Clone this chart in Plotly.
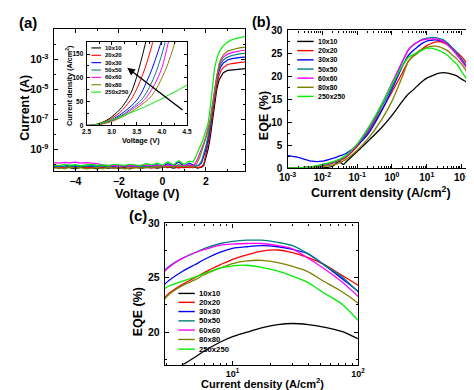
import plotly.graph_objects as go

W, H = 474, 390
FONT = "Liberation Sans"


def px(x):
    return x / W


def py(y):
    return 1 - y / H


SERIES = ["10x10", "20x20", "30x30", "50x50", "60x60", "80x80", "250x250"]
COLORS = ["#000000", "#ff0000", "#0000ff", "#008080", "#ff00ff", "#808000", "#00ee00"]

# ---------------- (a) I-V, log current ----------------
V_IV = [-5.0, -4.75, -4.5, -4.25, -4.0, -3.75, -3.5, -3.25, -3.0, -2.75, -2.5, -2.25, -2.0,
        -1.75, -1.5, -1.25, -1.0, -0.75, -0.5, -0.25, 0.0, 0.25, 0.5, 0.75, 1.0, 1.25,
        1.4, 1.5, 1.6, 1.7, 1.8, 1.9, 2.0, 2.1, 2.2, 2.3, 2.4, 2.5, 2.6, 2.7, 2.8, 3.0, 3.2, 3.4, 3.6, 3.8]

I_10 = [6.5e-11, 5.5e-11, 7e-11, 6e-11, 5e-11, 6.5e-11, 5.5e-11, 6e-11, 5e-11, 6.5e-11, 5.5e-11, 6e-11, 5.5e-11,
        6e-11, 5e-11, 6.5e-11, 5.5e-11, 6e-11, 6.5e-11, 5.5e-11, 6e-11, 7e-11, 5.5e-11, 6.5e-11, 6e-11, 7e-11,
        6e-11, 6.5e-11, 5.5e-11, 6e-11, 6.5e-11, 8e-11, 2.5e-10, 1e-9, 6.3e-9, 8e-8, 1e-6, 1e-5, 4e-5, 7.9e-5,
        1.26e-4, 1.8e-4, 2e-4, 2.1e-4, 2.2e-4, 2.35e-4]
I_20 = [7e-11, 6e-11, 6.5e-11, 7.5e-11, 6e-11, 7e-11, 6.5e-11, 5.5e-11, 7e-11, 6e-11, 7e-11, 6.5e-11, 6e-11,
        7e-11, 6.5e-11, 6e-11, 7e-11, 6.5e-11, 5.5e-11, 7e-11, 6.5e-11, 6e-11, 7.5e-11, 5.5e-11, 7e-11, 6e-11,
        6.5e-11, 7e-11, 6e-11, 6.5e-11, 7e-11, 1e-10, 4e-10, 2.5e-9, 1.6e-8, 2e-7, 2.5e-6, 2e-5, 7.9e-5, 1.8e-4,
        2.8e-4, 4.5e-4, 5.2e-4, 5.9e-4, 6.3e-4, 6.6e-4]
I_30 = [8e-11, 7e-11, 7.5e-11, 8.5e-11, 7e-11, 8e-11, 7.5e-11, 7e-11, 8e-11, 7.5e-11, 8.5e-11, 7e-11, 8e-11,
        7.5e-11, 8e-11, 7e-11, 8.5e-11, 7.5e-11, 8e-11, 9e-11, 7.5e-11, 1.1e-10, 8e-11, 1.4e-10, 7.5e-11, 1.2e-10,
        9e-11, 7.5e-11, 8e-11, 9e-11, 1.25e-10, 3.2e-10, 1e-9, 5e-9, 3.2e-8, 4e-7, 5e-6, 4e-5, 1.6e-4, 3.5e-4,
        5.6e-4, 8.9e-4, 1.1e-3, 1.26e-3, 1.35e-3, 1.4e-3]
I_50 = [7.5e-11, 8e-11, 7e-11, 7.5e-11, 8e-11, 7e-11, 7.5e-11, 8e-11, 7e-11, 7.5e-11, 7e-11, 8e-11, 7.5e-11,
        7e-11, 7.5e-11, 8e-11, 7e-11, 7.5e-11, 7e-11, 8e-11, 7.5e-11, 8.5e-11, 7e-11, 9e-11, 8e-11, 8.5e-11,
        7e-11, 7.5e-11, 8e-11, 1e-10, 1.6e-10, 5e-10, 1.6e-9, 7.9e-9, 5e-8, 6.3e-7, 7.9e-6, 6.3e-5, 2.5e-4, 5.6e-4,
        8.9e-4, 1.4e-3, 1.8e-3, 2.1e-3, 2.35e-3, 2.5e-3]
I_60 = [1.3e-10, 1.2e-10, 1.35e-10, 1.25e-10, 1.4e-10, 1.2e-10, 1.3e-10, 1.25e-10, 1.1e-10, 9e-11, 8e-11, 8.5e-11, 7.5e-11,
        8e-11, 8.5e-11, 7.5e-11, 8e-11, 9e-11, 8e-11, 7.5e-11, 8.5e-11, 8e-11, 9e-11, 7.5e-11, 8.5e-11, 9e-11,
        8e-11, 1.1e-10, 2e-10, 4.5e-10, 1e-9, 2.5e-9, 7e-9, 2.5e-8, 1e-7, 1e-6, 1e-5, 7.9e-5, 3.5e-4, 8.9e-4,
        1.4e-3, 2.2e-3, 2.8e-3, 3.3e-3, 3.7e-3, 4e-3]
I_80 = [5.5e-11, 6e-11, 5e-11, 6.5e-11, 5.5e-11, 6e-11, 5e-11, 5.5e-11, 6e-11, 5e-11, 6.5e-11, 5.5e-11, 6e-11,
        5e-11, 5.5e-11, 6e-11, 5.5e-11, 6.5e-11, 6e-11, 7e-11, 6e-11, 7.5e-11, 6.5e-11, 8e-11, 7e-11, 7.5e-11,
        6.5e-11, 7e-11, 1.25e-10, 2.5e-10, 7e-10, 1.8e-9, 5e-9, 1.6e-8, 8e-8, 8e-7, 1e-5, 1e-4, 4.5e-4, 1.1e-3,
        2e-3, 3.5e-3, 4.5e-3, 5.2e-3, 5.9e-3, 6.3e-3]
I_250 = [9e-11, 8e-11, 1e-10, 8.5e-11, 9.5e-11, 8e-11, 9e-11, 1e-10, 8.5e-11, 9e-11, 8e-11, 1e-10, 9e-11,
         8.5e-11, 1e-10, 9e-11, 8e-11, 1.1e-10, 9e-11, 1.2e-10, 8.5e-11, 1.5e-10, 9e-11, 1.7e-10, 1e-10, 1.6e-10,
         1.4e-10, 2.5e-10, 5e-10, 1e-9, 2.5e-9, 6.3e-9, 1.6e-8, 5e-8, 6.3e-7, 1.6e-5, 2.5e-4, 1.1e-3, 2.8e-3, 5e-3,
         7.9e-3, 1.4e-2, 2e-2, 2.5e-2, 2.95e-2, 3.3e-2]
IV_DATA = [I_10, I_20, I_30, I_50, I_60, I_80, I_250]

# ---------------- (a) inset: J-V linear ----------------
V_INSET = [2.5, 2.6, 2.7, 2.8, 2.9, 3.0, 3.1, 3.2, 3.3, 3.4, 3.5, 3.6, 3.7, 3.8, 3.9, 4.0, 4.1, 4.2, 4.3, 4.4, 4.5]
J_10 = [0, 0.5, 2.5, 6, 11, 18, 27, 38, 53, 72, 103, 142, 185]
J_20 = [0, 0.4, 2, 5, 9.5, 15, 22, 31, 43, 57, 77, 102, 132, 168, 210]
J_30 = [0, 0.3, 1.5, 4, 7.5, 12, 18, 25, 33, 42, 53, 70, 93, 118, 148, 180]
J_50 = [0, 0.3, 1.3, 3.5, 6.5, 10.5, 15.5, 21.5, 28.5, 36.5, 45, 55, 70, 91, 117, 150, 190]
J_60 = [0, 0.3, 1.2, 3.2, 6, 9.5, 14, 19.5, 26, 33.5, 41, 48.5, 60, 76, 96, 121, 162, 210]
J_80 = [0, 0.2, 1.0, 2.8, 5.3, 8.5, 12.5, 17.5, 23, 29.5, 36.5, 44, 52, 63, 79, 100, 124, 155, 188]
J_250 = [0, 0.3, 2, 5, 8.5, 12, 15.5, 19.5, 23.5, 27.5, 32, 36.5, 41, 46, 51, 56, 62, 67.5, 73, 79, 85]
JV_DATA = [J_10, J_20, J_30, J_50, J_60, J_80, J_250]

# ---------------- (b)/(c) EQE vs current density ----------------
J_EQE = [0.001, 0.002, 0.005, 0.01, 0.02, 0.03, 0.04, 0.05, 0.1, 0.2, 0.5, 1, 2, 3, 4, 5, 6, 8, 10,
         13, 17, 23, 30, 40, 52, 75, 100, 150, 210]
EQE_10 = [0.0, 0.0, 0.0, 0.05, 0.4, 1.5, 0.8, 1.5, 3.6, 5.8, 8.8, 11.5, 14.6, 16.2, 17.0, 17.7, 18.3, 19.1, 19.6,
          20.0, 20.4, 20.7, 20.8, 20.7, 20.5, 20.05, 19.4, 18.6, 17.6]
EQE_20 = [0.0, 0.05, 0.2, 0.55, 1.1, 1.55, 2.0, 2.5, 4.7, 7.6, 12.6, 16.6, 20.8, 23.4, 24.4, 25.0, 25.5, 26.2, 26.7,
          27.1, 27.45, 27.55, 27.3, 26.85, 26.3, 25.2, 24.3, 22.5, 20.6]
EQE_30 = [2.7, 2.35, 1.5, 1.5, 2.1, 2.6, 2.95, 3.3, 5.0, 7.3, 12.4, 17.2, 22.2, 24.6, 25.6, 26.2, 26.7, 27.35, 27.7,
          27.85, 27.95, 27.85, 27.6, 27.2, 26.3, 24.9, 23.75, 21.8, 19.8]
EQE_50 = [0.0, 0.05, 0.25, 0.6, 1.2, 1.7, 2.2, 2.7, 5.0, 8.0, 13.3, 17.8, 23.2, 25.9, 26.8, 27.3, 27.7, 28.15, 28.35,
          28.45, 28.45, 28.25, 27.95, 27.2, 26.3, 25.05, 23.7, 21.6, 19.7]
EQE_60 = [0.0, 0.08, 0.3, 0.75, 1.3, 1.8, 2.3, 2.8, 5.1, 8.3, 13.8, 18.6, 23.3, 25.8, 26.8, 27.3, 27.6, 28.0, 28.1,
          28.15, 28.15, 27.95, 27.65, 26.8, 25.95, 24.6, 23.3, 21.5, 19.7]
EQE_80 = [0.0, 0.0, 0.1, 0.3, 0.7, 1.1, 1.6, 2.0, 3.9, 6.3, 10.5, 14.6, 20.0, 23.3, 24.3, 24.8, 25.3, 25.9, 26.3,
          26.55, 26.6, 26.4, 26.05, 25.55, 24.75, 23.7, 22.65, 20.6, 18.4]
EQE_250 = [0.0, 0.05, 0.3, 0.8, 1.4, 1.9, 2.4, 2.9, 5.3, 8.6, 13.8, 18.3, 22.3, 24.15, 24.7, 25.05, 25.4, 25.9, 26.1,
           26.15, 25.95, 25.6, 25.15, 24.55, 23.7, 22.55, 21.1, 19.0, 17.0]
EQE_DATA = [EQE_10, EQE_20, EQE_30, EQE_50, EQE_60, EQE_80, EQE_250]

# tick labels
IV_TICKS = [1e-9, 1e-7, 1e-5, 1e-3]
IV_TICKTEXT = ["10<sup>-9</sup>", "10<sup>-7</sup>", "10<sup>-5</sup>", "10<sup>-3</sup>"]
B_TICKS = [1e-3, 1e-2, 1e-1, 1, 10, 100]
B_TICKTEXT = ["10<sup>-3</sup>", "10<sup>-2</sup>", "10<sup>-1</sup>", "10<sup>0</sup>", "10<sup>1</sup>", "10<sup>2</sup>"]
C_TICKS = [10, 100]
C_TICKTEXT = ["10<sup>1</sup>", "10<sup>2</sup>"]

fig = go.Figure()

for name, col, ys in zip(SERIES, COLORS, IV_DATA):
    fig.add_trace(go.Scatter(x=V_IV, y=ys, mode="lines", name=name, showlegend=False,
                             line=dict(color=col, width=1.2), xaxis="x", yaxis="y"))
for name, col, ys in zip(SERIES, COLORS, JV_DATA):
    fig.add_trace(go.Scatter(x=V_INSET[:len(ys)], y=ys, mode="lines", name=name, showlegend=False,
                             line=dict(color=col, width=1.0, shape="spline", smoothing=0.8),
                             xaxis="x2", yaxis="y2"))
for name, col, ys in zip(SERIES, COLORS, EQE_DATA):
    fig.add_trace(go.Scatter(x=J_EQE, y=ys, mode="lines", name=name, showlegend=False,
                             line=dict(color=col, width=1.3, shape="spline", smoothing=0.8),
                             xaxis="x3", yaxis="y3"))
for name, col, ys in zip(SERIES, COLORS, EQE_DATA):
    fig.add_trace(go.Scatter(x=J_EQE, y=ys, mode="lines", name=name, showlegend=False,
                             line=dict(color=col, width=1.3, shape="spline", smoothing=0.8),
                             xaxis="x4", yaxis="y4"))


def tfont(size):
    return dict(family=FONT, size=size, color="black", weight="bold")


def axis(domain, rng, size=10.5, **kw):
    d = dict(domain=domain, range=rng, showline=True, linecolor="black", linewidth=1.3,
             mirror="allticks", ticks="inside", ticklen=4, tickwidth=1.2, tickcolor="black",
             showgrid=False, zeroline=False, tickfont=tfont(size), ticklabelstandoff=2)
    d.update(kw)
    return d


MINOR = dict(ticks="inside", ticklen=2, tickwidth=1, tickcolor="black", showgrid=False)

fig.update_layout(
    width=W, height=H, margin=dict(l=0, r=0, t=0, b=0),
    paper_bgcolor="white", plot_bgcolor="white", showlegend=False,
    xaxis=axis([px(38), px(236)], [-5, 3.8], anchor="y", tickvals=[-4, -2, 0, 2], ticklabelstandoff=0,
               minor=dict(MINOR, dtick=1, tick0=0)),
    yaxis=axis([py(162), py(15)], [-10.45, -0.95], anchor="x", type="log", tickvals=IV_TICKS,
               ticktext=IV_TICKTEXT, minor=dict(MINOR, tickmode="array",
                                                tickvals=[1e-10, 1e-8, 1e-6, 1e-4, 1e-2])),
    xaxis2=axis([px(72), px(176)], [2.5, 4.5], size=6.5, anchor="y2", tickvals=[2.5, 3.0, 3.5, 4.0, 4.5],
                ticktext=["2.5", "3.0", "3.5", "4.0", "4.5"], ticklen=3, linewidth=1, ticklabelstandoff=0,
                minor=dict(MINOR, dtick=0.25, tick0=2.5)),
    yaxis2=axis([py(115), py(29)], [0, 175], size=6.5, anchor="x2", tickvals=[0, 50, 100, 150], ticklen=3,
                linewidth=1, ticklabelstandoff=1, minor=dict(MINOR, dtick=25, tick0=0)),
    xaxis3=axis([px(280), px(472)], [-3, 2.33], anchor="y3", type="log", tickvals=B_TICKS,
                ticktext=B_TICKTEXT, size=10, ticklabelstandoff=0, minor=dict(MINOR, dtick="D1")),
    yaxis3=axis([py(159), py(17)], [0, 30], anchor="x3", tickvals=[0, 5, 10, 15, 20, 25, 30], size=10,
                minor=dict(MINOR, dtick=2.5, tick0=0)),
    xaxis4=axis([px(153), px(353)], [0.46, 2.0], anchor="y4", type="log", tickvals=C_TICKS,
                ticktext=C_TICKTEXT, size=9, ticklabelstandoff=0, minor=dict(MINOR, dtick="D1")),
    yaxis4=axis([py(362), py(216)], [17, 30], anchor="x4", tickvals=[20, 25, 30],
                minor=dict(MINOR, dtick=2.5, tick0=17.5)),
)

shapes = [
    # white backing for the inset so the main curves do not show through
    dict(type="rect", xref="x2 domain", yref="y2 domain", x0=0, x1=1, y0=0, y1=1,
         fillcolor="white", line=dict(width=0), layer="below"),
]
annotations = []


def legend(x0, x1, xt, rows, size, lw):
    for name, col, r in zip(SERIES, COLORS, rows):
        shapes.append(dict(type="line", xref="paper", yref="paper", x0=px(x0), x1=px(x1),
                           y0=py(r), y1=py(r), line=dict(color=col, width=lw)))
        annotations.append(dict(x=px(xt), y=py(r), xref="paper", yref="paper", text=name,
                                showarrow=False, xanchor="left", yanchor="middle",
                                font=tfont(size)))


legend(77, 87, 89, [35, 42.6, 50.2, 57.8, 65.4, 73, 80.6], 6, 1.1)
legend(290, 307, 309.5, [28.3, 37.8, 47.3, 56.8, 66.2, 75.6, 85], 7, 1.4)
legend(167, 184, 186, [288.3, 297.5, 307, 316.6, 326.1, 335.8, 345.8], 7.7, 1.4)


def label(x, y, text, size, angle=0):
    annotations.append(dict(x=px(x), y=py(y), xref="paper", yref="paper", text=text, showarrow=False,
                            xanchor="center", yanchor="middle", textangle=angle, font=tfont(size),
                            borderpad=0))


label(11, 9, "(a)", 15)
label(253, 8, "(b)", 14.5)
label(125, 208, "(c)", 15)
label(8, 97, "Current (A)", 12.5, -90)
label(135, 186, "Voltage (V)", 12.5)
label(255, 105, "EQE (%)", 12.5, -90)
label(377, 184, "Current density (A/cm<sup>2</sup>)", 12.5)
label(125, 307, "EQE (%)", 12.5, -90)
label(254, 380.5, "Current density (A/cm<sup>2</sup>)", 11)
label(128, 131, "Voltage (V)", 7.3)
label(54, 74, "Current density (A/cm<sup>2</sup>)", 7.2, -90)

annotations.append(dict(x=3.31, y=121, ax=4.44, ay=30, xref="x2", yref="y2", axref="x2", ayref="y2",
                        text="", showarrow=True, arrowhead=2, arrowsize=1.1, arrowwidth=1.4,
                        arrowcolor="black"))

fig.update_layout(shapes=shapes, annotations=annotations)
fig.write_html("out.html")
